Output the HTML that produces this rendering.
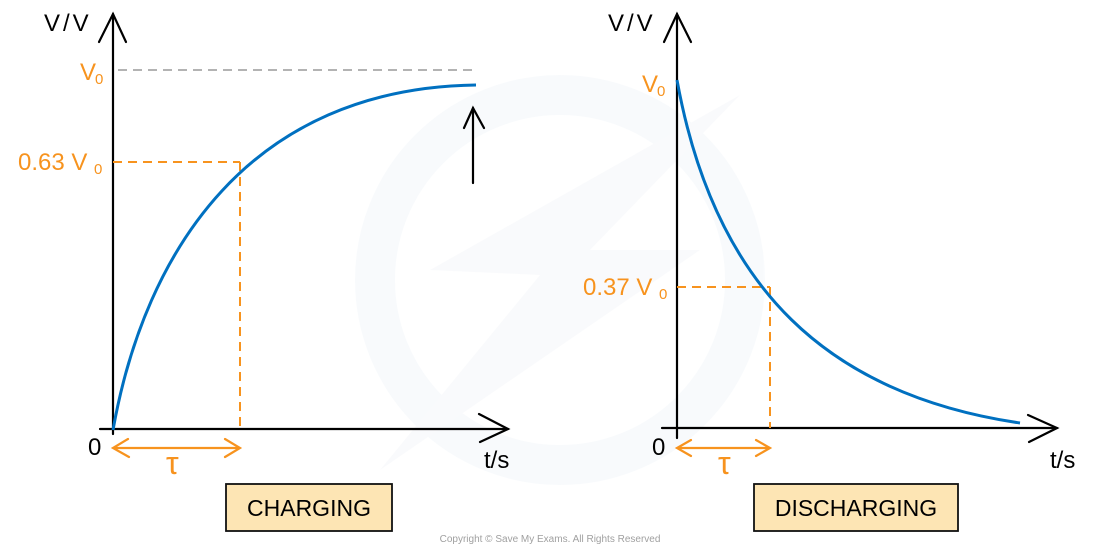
<!DOCTYPE html>
<html><head><style>
html,body{margin:0;padding:0;background:#fff;width:1100px;height:551px;overflow:hidden}
svg{display:block}
text{font-family:"Liberation Sans",sans-serif}
</style></head><body>
<svg width="1100" height="551" viewBox="0 0 1100 551" xmlns="http://www.w3.org/2000/svg">
<g opacity="0.18">
<circle cx="560" cy="280" r="185" fill="none" stroke="#dde8f3" stroke-width="40"/>
<polygon points="740,95 430,270 540,275 380,470 700,250 590,250" fill="#e3e8ef"/>
</g>
<g fill="none" stroke="#000" stroke-width="2.2" stroke-linecap="round">
<path d="M113,14 L113,434"/>
<path d="M99,42 L113,14 L126,42"/>
<path d="M100,429 L508,429"/>
<path d="M479,414 L508,429 L480,442"/>
<path d="M473,183 L473,108"/>
<path d="M464,128 L473,108 L484,128"/>
<path d="M677,14 L677,438"/>
<path d="M664,42 L677,14 L691,42"/>
<path d="M662,428 L1057,428"/>
<path d="M1028,415 L1057,428 L1029,442"/>
</g>
<path d="M118,70 L478,70" stroke="#b3b3b3" stroke-width="2" stroke-dasharray="9,6" fill="none"/>
<g stroke="#f7931e" stroke-width="2" stroke-dasharray="9,6" fill="none">
<path d="M113,162 L240,162 M240,162 L240,428"/>
<path d="M677,287 L770,287 M770,287 L770,428"/>
</g>
<path d="M113,430 C145,250 250,88 476,85" stroke="#0070c0" stroke-width="3" fill="none"/>
<path d="M677,80 C715,290 830,395 1020,423" stroke="#0070c0" stroke-width="3" fill="none"/>
<g stroke="#f7931e" stroke-width="2.2" fill="none" stroke-linecap="round">
<path d="M113,448 L240,448 M128,439 L113,448 L129,457 M225,439 L240,448 L225,457"/>
<path d="M677,448 L770,448 M691,440 L677,448 L691,456 M756,440 L770,448 L756,456"/>
</g>
<g font-size="24" fill="#000">
<text x="44" y="31" letter-spacing="3">V/V</text>
<text x="608" y="31" letter-spacing="3">V/V</text>
<text x="88" y="455">0</text>
<text x="652" y="455">0</text>
<text x="484" y="468">t/s</text>
<text x="1050" y="468">t/s</text>
</g>
<g fill="#f7931e" font-size="24">
<text x="80" y="80">V</text><text x="95" y="84" font-size="15">0</text>
<text x="18" y="170">0.63 V</text><text x="94" y="174" font-size="15">0</text>
<text x="642" y="92">V</text><text x="657" y="96" font-size="15">0</text>
<text x="583" y="295">0.37 V</text><text x="659" y="299" font-size="15">0</text>
<text x="166" y="474" font-size="32" font-family="Liberation Serif,serif">τ</text>
<text x="718" y="474" font-size="32" font-family="Liberation Serif,serif">τ</text>
</g>
<rect x="226" y="484" width="166" height="47" fill="#fde5b4" stroke="#111" stroke-width="1.8"/>
<text x="309" y="516" font-size="23" text-anchor="middle">CHARGING</text>
<rect x="754" y="484" width="204" height="47" fill="#fde5b4" stroke="#111" stroke-width="1.8"/>
<text x="856" y="516" font-size="23" text-anchor="middle">DISCHARGING</text>
<text x="550" y="542" font-size="10" fill="#a0a0a0" text-anchor="middle">Copyright © Save My Exams. All Rights Reserved</text>
</svg>
</body></html>
